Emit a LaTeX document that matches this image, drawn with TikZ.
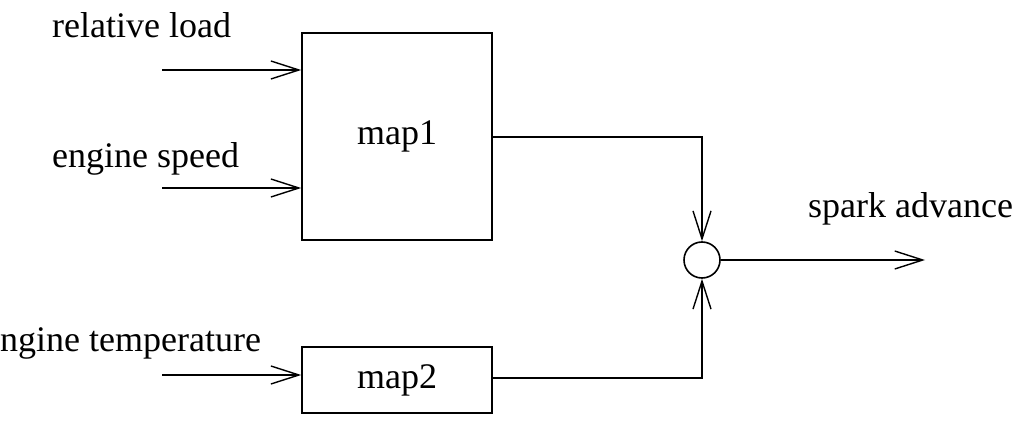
\documentclass[tikz,border=0pt]{standalone}
\usepackage{fontspec}
\setmainfont{Liberation Serif}
\usetikzlibrary{arrows.meta}
\begin{document}
\begin{tikzpicture}[x=1pt,y=-1pt,
  box/.style={draw,line width=1.6pt,inner sep=0pt},
  lab/.style={font=\fontsize{36}{40}\selectfont,inner sep=0pt,anchor=base west},
  conn/.style={line width=1.6pt,-{Straight Barb[length=28pt,width=18pt,line width=1.4pt]}},
  plain/.style={line width=1.6pt}]
\useasboundingbox (0,0) rectangle (1012,430);
\node[box,minimum width=190pt,minimum height=207pt] (m1) at (397,136.5) {};
\node[lab,anchor=center] at (m1.center) {map1};
\node[box,minimum width=190pt,minimum height=66pt] (m2) at (397,380) {};
\node[lab,anchor=center] at (m2.center) {map2};
\node[draw,circle,line width=1.6pt,minimum size=36pt,inner sep=0pt] (s) at (702,260) {};
\node[lab] (t1) at (52,38) {relative load};
\node[lab] (t2) at (52,168) {engine speed};
\node[lab] (t3) at (0,352) {ngine temperature};
\node[lab] (t4) at (808,218) {spark advance};
\coordinate (a1) at (162,70);
\coordinate (a2) at (162,188);
\coordinate (a3) at (162,375);
\coordinate (o) at (925,260);
\draw[conn] (a1) -- (a1 -| m1.west);
\draw[conn] (a2) -- (a2 -| m1.west);
\draw[conn] (a3) -- (a3 -| m2.west);
\draw[conn] (m1.east |- 0,137) -| (s.north);
\draw[conn] (m2.east |- 0,378) -| (s.south);
\draw[conn] (s.east) -- (o);
\end{tikzpicture}
\end{document}
